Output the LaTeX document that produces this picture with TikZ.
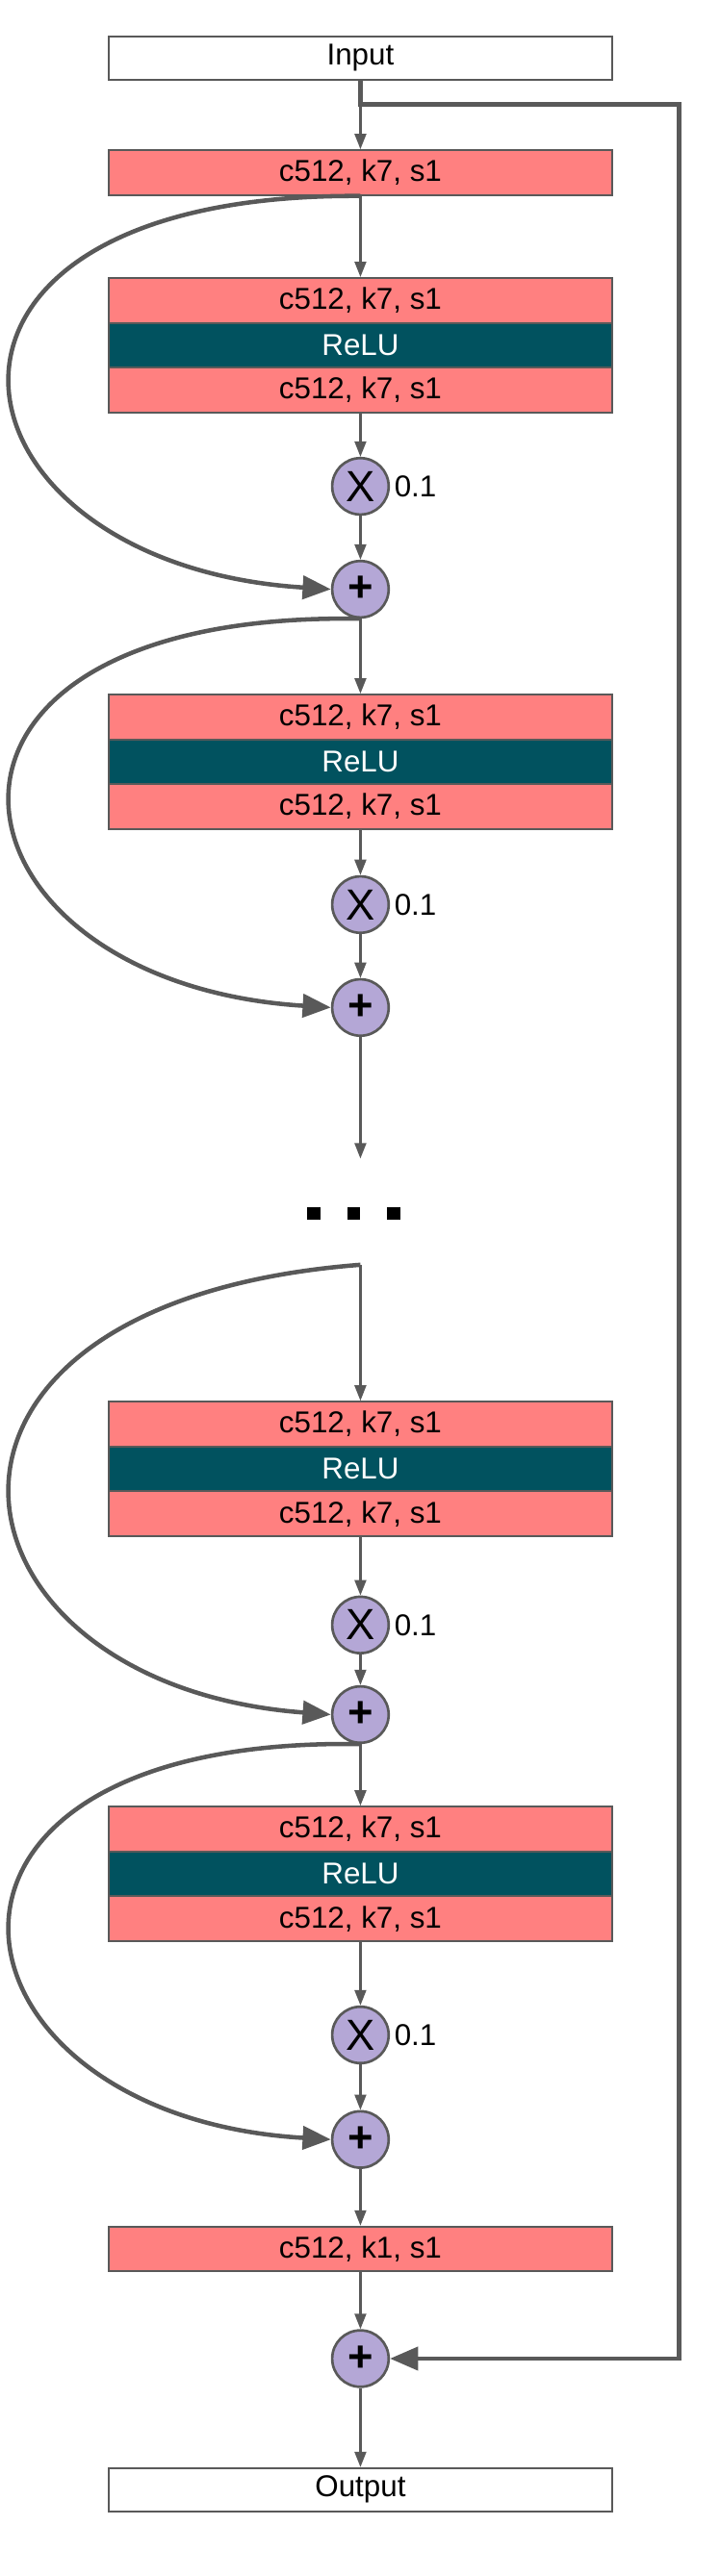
\documentclass[tikz,border=0pt]{standalone}
\usepackage{fontspec}
\setmainfont{Liberation Sans}
\usetikzlibrary{arrows.meta}
\definecolor{pinkc}{HTML}{FF8080}
\definecolor{tealc}{HTML}{01525F}
\definecolor{lavc}{HTML}{B4A7D6}
\definecolor{edgec}{HTML}{595959}
\tikzset{
  box/.style={draw=edgec,line width=1.5pt,minimum width=303*1.294pt,minimum height=27*1.294pt,inner sep=0pt,font=\fontsize{23.5}{28}\selectfont,anchor=center},
  conv/.style={box,fill=pinkc},
  relu/.style={box,fill=tealc,text=white},
  io/.style={box,fill=white,minimum height=26*1.294pt},
  op/.style={circle,draw=edgec,fill=lavc,line width=2pt,minimum size=34*1.294pt,inner sep=0pt,font=\fontsize{34}{34}\selectfont},
  lab/.style={font=\fontsize{23.5}{28}\selectfont,anchor=west},
  thin/.style={draw=edgec,line width=1.6pt,-{Triangle[length=12pt,width=9pt]}},
  thick/.style={draw=edgec,line width=3.4pt,-{Triangle[length=22pt,width=18pt]}},
  dot/.style={fill=black,minimum size=10pt,inner sep=0pt}
}
\begin{document}
\begin{tikzpicture}[x=1.294pt,y=-1.294pt]
\useasboundingbox (0,0) rectangle (433,1552);
\node[io] (in) at (217,35) {Input};
\node[conv] (c0) at (217,104) {c512, k7, s1};
% block 1
\node[conv] (a1) at (217,181) {c512, k7, s1};
\node[relu] (r1) at (217,208) {ReLU};
\node[conv] (b1) at (217,235) {c512, k7, s1};
\node[op] (x1) at (217,293) {X};
\node[lab] (l1) at (x1.east) {0.1};
\node[op] (p1) at (217,355) {\textbf{+}};
% block 2
\node[conv] (a2) at (217,432) {c512, k7, s1};
\node[relu] (r2) at (217,459) {ReLU};
\node[conv] (b2) at (217,486) {c512, k7, s1};
\node[op] (x2) at (217,545) {X};
\node[lab] (l2) at (x2.east) {0.1};
\node[op] (p2) at (217,607) {\textbf{+}};
\coordinate (e2) at (217,698);
\node[dot] (d1) at (189,731) {};
\node[dot] (d2) at (213,731) {};
\node[dot] (d3) at (237,731) {};
\coordinate (s3) at (217,762);
% block 3
\node[conv] (a3) at (217,858) {c512, k7, s1};
\node[relu] (r3) at (217,885) {ReLU};
\node[conv] (b3) at (217,912) {c512, k7, s1};
\node[op] (x3) at (217,979) {X};
\node[lab] (l3) at (x3.east) {0.1};
\node[op] (p3) at (217,1033) {\textbf{+}};
% block 4
\node[conv] (a4) at (217,1102) {c512, k7, s1};
\node[relu] (r4) at (217,1129) {ReLU};
\node[conv] (b4) at (217,1156) {c512, k7, s1};
\node[op] (x4) at (217,1226) {X};
\node[lab] (l4) at (x4.east) {0.1};
\node[op] (p4) at (217,1289) {\textbf{+}};
\node[conv] (c5) at (217,1355) {c512, k1, s1};
\node[op] (p5) at (217,1421) {\textbf{+}};
\node[io] (out) at (217,1500) {Output};
% thin arrows
\draw[thin] (in) -- (c0);
\draw[thin] (c0) -- (a1);
\draw[thin] (b1) -- (x1);
\draw[thin] (x1) -- (p1);
\draw[thin] (p1) -- (a2);
\draw[thin] (b2) -- (x2);
\draw[thin] (x2) -- (p2);
\draw[thin] (p2) -- (e2);
\draw[thin] (s3) -- (a3);
\draw[thin] (b3) -- (x3);
\draw[thin] (x3) -- (p3);
\draw[thin] (p3) -- (a4);
\draw[thin] (b4) -- (x4);
\draw[thin] (x4) -- (p4);
\draw[thin] (p4) -- (c5);
\draw[thin] (c5) -- (p5);
\draw[thin] (p5) -- (out);
% skip curves
\draw[thick] (c0.south) .. controls (-80,116) and (-40,340) .. (p1.west);
\draw[thick] (p1.south) .. controls (-80,368) and (-40,592) .. (p2.west);
\draw[thick] (s3) .. controls (-80,785) and (-40,1015) .. (p3.west);
\draw[thick] (p3.south) .. controls (-80,1046) and (-40,1275) .. (p4.west);
% long bypass
\draw[thick,line join=miter] (in.south) -- (217,63) -- (409,63) -- (409,1421) -- (p5.east);
\end{tikzpicture}
\end{document}
